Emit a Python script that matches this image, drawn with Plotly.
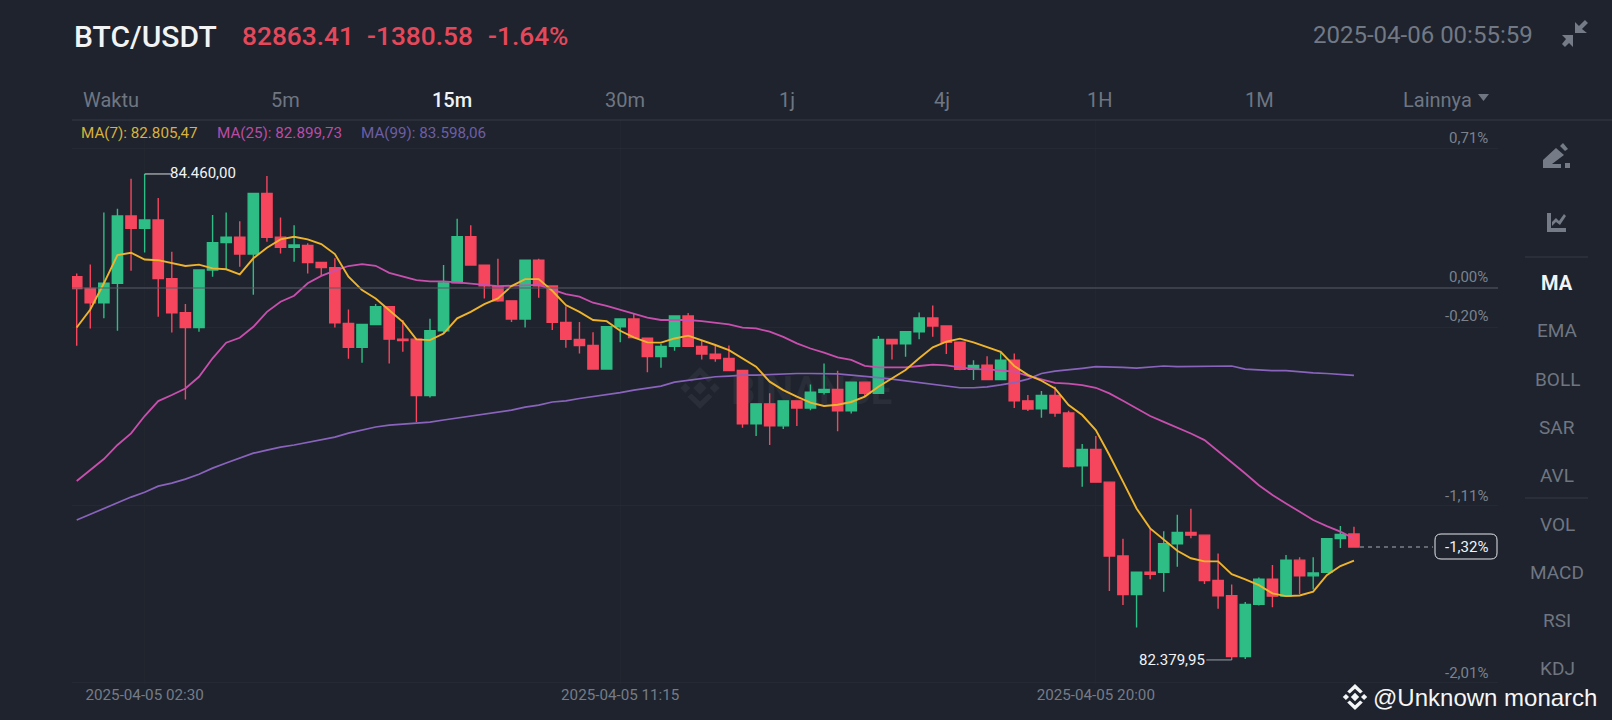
import pandas as pd
import plotly.graph_objects as go

W, H = 1612, 720
BG = "#1e232d"
GRAY = "#757c88"
FONT = "Roboto"

opens = [84020,83970,83909,83992,84280,84227,84263,84012,83866,83803,84049,84166,84189,84117,84377,84189,84146,84154,84081,84059,
         83820,83718,83816,83892,83753,83753,83512,83789,83994,84191,84070,83977,83917,83839,84091,83981,83825,83752,83726,83625,
         83806,83839,83757,83679,83722,83852,83722,83689,83670,83619,83391,83476,83382,83489,83458,83526,83538,83446,83569,83521,
         83752,83733,83785,83844,83809,83740,83624,83642,83580,83663,83489,83455,83512,83437,83211,83281,83141,82825,82660,82755,
         82755,82877,82926,82914,82720,82655,82394,82618,82726,82653,82807,82740,82755,82900,82919]
closes = [83970,83909,83992,84280,84227,84263,84012,83866,83803,84049,84166,84189,84117,84377,84189,84146,84156,84081,84059,83823,
          83718,83816,83892,83753,83747,83512,83789,83994,84191,84070,83981,83917,83839,84091,83981,83825,83752,83726,83625,83806,
          83839,83760,83679,83722,83852,83722,83689,83670,83619,83391,83476,83382,83489,83458,83526,83538,83446,83569,83521,83752,
          83733,83785,83844,83809,83740,83624,83640,83580,83663,83489,83454,83512,83437,83208,83281,83141,82825,82660,82755,82746,
          82877,82926,82914,82720,82655,82394,82618,82726,82653,82807,82740,82752,82899,82917,82863.41]
highs = [84034,84073,84295,84311,84440,84460,84357,84127,83903,84049,84284,84295,84258,84377,84451,84274,84240,84163,84081,84099,
         83880,83816,83903,83892,83835,83753,83840,84070,84268,84240,84070,84097,83917,84091,84097,83981,83894,83826,83783,83806,
         83839,83863,83757,83732,83852,83865,83749,83726,83726,83619,83476,83521,83489,83489,83559,83649,83618,83569,83569,83766,
         83752,83785,83867,83897,83809,83740,83663,83680,83695,83692,83514,83531,83549,83447,83304,83338,83141,82899,82755,82941,
         82931,83001,83027,82914,82836,82703,82628,82733,82786,82829,82819,82819,82899,82953,82950]
lows = [83725,83799,83842,83789,84046,84124,83849,83781,83495,83785,84020,84049,84063,83943,84170,84120,84084,84034,84023,83803,
        83669,83652,83816,83649,83699,83398,83503,83777,83994,84070,83927,83913,83826,83803,83930,83792,83716,83692,83624,83625,
        83740,83760,83611,83631,83703,83722,83666,83656,83618,83374,83338,83300,83368,83381,83449,83516,83359,83435,83509,83521,
        83666,83678,83753,83763,83689,83620,83578,83580,83580,83458,83445,83417,83421,83204,83121,83141,82675,82615,82519,82725,
        82672,82779,82901,82705,82599,82380,82384,82613,82605,82653,82662,82682,82755,82859,82863.41]
ma7 = [83803,83880,83992,84113,84123,84094,84091,84077,84066,84072,84056,84052,84030,84099,84144,84180,84191,84180,84160,84117,
       84020,83963,83927,83877,83827,83752,83749,83777,83842,83870,83903,83927,83980,84010,84010,83960,83899,83870,83835,83830,
       83789,83761,83739,83738,83756,83768,83749,83728,83706,83671,83635,83571,83535,83507,83481,83467,83472,83484,83507,83549,
       83585,83621,83671,83718,83742,83755,83739,83718,83699,83638,83600,83575,83542,83471,83428,83364,83257,83143,83028,82943,
       82893,82847,82815,82802,82802,82747,82725,82700,82665,82653,82656,82672,82743,82782,82805.47]
ma25 = [83146,83193,83240,83300,83350,83424,83488,83514,83542,83592,83671,83738,83759,83806,83870,83913,83939,83992,84024,84046,
        84066,84074,84067,84037,84023,84006,84000,84000,83996,83992,83985,83980,83981,83985,83985,83965,83946,83935,83909,83895,
        83878,83859,83845,83835,83835,83835,83830,83822,83816,83802,83799,83785,83763,83735,83713,83695,83675,83664,83639,83632,
        83631,83632,83638,83644,83641,83632,83625,83624,83619,83614,83596,83581,83566,83563,83556,83545,83521,83489,83456,83424,
        83399,83375,83349,83321,83274,83224,83178,83128,83086,83050,83014,82979,82953,82929,82899.73]
ma99 = [82979,83004,83026,83051,83077,83098,83124,83137,83154,83175,83201,83223,83244,83265,83278,83291,83300,83312,83325,83334,
        83351,83364,83377,83385,83389,83394,83398,83407,83415,83424,83432,83441,83449,83462,83471,83484,83489,83499,83507,83514,
        83524,83535,83544,83552,83569,83577,83585,83592,83595,83599,83599,83602,83604,83606,83606,83606,83604,83599,83595,83588,
        83582,83575,83567,83559,83552,83545,83545,83549,83557,83567,83582,83606,83616,83621,83628,83635,83635,83632,83629,83632,
        83638,83635,83635,83636,83638,83638,83625,83621,83618,83618,83612,83609,83606,83603,83598.06]

base_price = 83972
pct_ticks = [0.71, -0.20, -1.11, -2.01]
pct_labels = ["0,71%", "-0,20%", "-1,11%", "-2,01%"]
date_ticks = ["2025-04-05 02:30", "2025-04-05 11:15", "2025-04-05 20:00"]
intervals = ["Waktu", "5m", "15m", "30m", "1j", "4j", "1H", "1M"]
indicators = ["MA", "EMA", "BOLL", "SAR", "AVL", "VOL", "MACD", "RSI", "KDJ"]

times = pd.date_range("2025-04-05 01:15", periods=len(closes), freq="15min")
fx = lambda x: x / W
fy = lambda y: 1 - y / H

fig = go.Figure()
fig.add_trace(go.Candlestick(
    x=times, open=opens, high=highs, low=lows, close=closes,
    increasing=dict(line=dict(color="#2ebd85", width=1.4), fillcolor="#2ebd85"),
    decreasing=dict(line=dict(color="#f6465d", width=1.4), fillcolor="#f6465d"),
    whiskerwidth=0, showlegend=False))
for vals, col, lw in [(ma99, "#8a63bd", 1.7), (ma25, "#c94fae", 1.8), (ma7, "#f0b42c", 1.9)]:
    fig.add_trace(go.Scatter(x=times, y=vals, mode="lines", line=dict(color=col, width=lw), showlegend=False))
# leader lines of the high / low labels
fig.add_trace(go.Scatter(x=[times[5], times[5] + pd.Timedelta(minutes=29)], y=[84460, 84460], mode="lines",
                         line=dict(color="#d8dbe0", width=1), showlegend=False))
fig.add_trace(go.Scatter(x=[times[85] - pd.Timedelta(minutes=28), times[85]], y=[82380, 82380], mode="lines",
                         line=dict(color="#9aa0a8", width=1), showlegend=False))

ann, shapes = [], []
def T(x, y, s, size, color=GRAY, anchor="center", weight=400):
    ann.append(dict(x=fx(x), y=fy(y), xref="paper", yref="paper", text=s, showarrow=False, xanchor=anchor, yanchor="middle",
                    borderpad=0, font=dict(family=FONT, size=size, color=color, weight=weight)))
def P(d, color):
    shapes.append(dict(type="path", xref="paper", yref="paper", path=d, fillcolor=color, line=dict(width=0)))
def poly(pts):
    return "M " + " L ".join(f"{fx(a):.5f},{fy(b):.5f}" for a, b in pts) + " Z"
def hline(x0, x1, y, color, w=1):
    shapes.append(dict(type="line", xref="paper", yref="paper", x0=fx(x0), x1=fx(x1), y0=fy(y), y1=fy(y), line=dict(color=color, width=w)))
def logo(cx, cy, r, color):
    s = r / 10
    for dx, dy, q in [(0, 0, 3.2), (-7, 0, 2.4), (7, 0, 2.4)]:
        P(poly([(cx + dx * s - q * s, cy + dy * s), (cx + dx * s, cy + dy * s - q * s), (cx + dx * s + q * s, cy + dy * s), (cx + dx * s, cy + dy * s + q * s)]), color)
    for sg in (-1, 1):
        P(poly([(cx - 6 * s, cy + sg * 4.2 * s), (cx, cy + sg * 10 * s), (cx + 6 * s, cy + sg * 4.2 * s), (cx + 4 * s, cy + sg * 2.6 * s), (cx, cy + sg * 6.4 * s), (cx - 4 * s, cy + sg * 2.6 * s)]), color)

# header
T(73, 36, "BTC/USDT", 30, "#f2f3f5", "left", 500)
T(241, 36, "82863.41", 26.3, "#e4495b", "left", 500)
T(366, 36, "-1380.58", 26.3, "#e4495b", "left", 500)
T(487, 36, "-1.64%", 26.3, "#e4495b", "left", 500)
T(1534, 35, "2025-04-06 00:55:59", 24, "#727985", "right")
# collapse icon
P(poly([(1575, 33), (1575, 22), (1579, 26), (1585, 20), (1588, 23), (1582, 29), (1587, 33)]), GRAY)
P(poly([(1573, 35), (1573, 47), (1569, 43), (1565, 47), (1562, 44), (1566, 39), (1562, 35)]), GRAY)

# interval bar
for s, x in zip(intervals, [111, 285, 452, 625, 787, 942, 1100, 1259]):
    T(x, 100, s, 20, "#f2f3f5" if s == "15m" else "#6f7682", weight=500 if s == "15m" else 400)
T(1473, 100, "Lainnya", 20, "#6f7682", "right")
P(poly([(1478, 94), (1489, 94), (1483.5, 101)]), "#6f7682")
hline(72, W, 120, "#343a45")

# MA legend
T(80, 133, "MA(7): 82.805,47", 15.2, "#d9b13c", "left")
T(216, 133, "MA(25): 82.899,73", 15.2, "#bd4ba6", "left")
T(360, 133, "MA(99): 83.598,06", 15.2, "#6e5ea6", "left")

# percent labels
for s, y in zip(pct_labels, [138, 316, 496, 673]):
    T(1489, y, s, 15, "#7b828d", "right")
T(1489, 277, "0,00%", 15, "#7b828d", "right")

# side panel
ys = [283, 331, 379, 427, 475, 524, 572, 620, 668]
for s, y in zip(indicators, ys):
    T(1557, y, s, 20 if s == "MA" else 19, "#f2f3f5" if s == "MA" else "#6f7682", weight=700 if s == "MA" else 400)
hline(1525, 1588, 257, "#343a45")
hline(1525, 1588, 498, "#343a45")
# pencil icon
P(poly([(1543, 168), (1543, 160), (1556, 148), (1564, 155), (1552, 164), (1561, 164), (1561, 168)]), GRAY)
P(poly([(1565, 163), (1570, 163), (1570, 168), (1565, 168)]), GRAY)
P(poly([(1560, 146), (1563, 143), (1568, 149), (1565, 151)]), GRAY)
# chart icon
P(poly([(1547, 213), (1551, 213), (1551, 228), (1566, 228), (1566, 232), (1547, 232)]), GRAY)
P(poly([(1552, 226), (1552, 222), (1556, 218), (1559, 221), (1564, 214), (1566, 216), (1560, 225), (1556, 222)]), GRAY)

# high / low / current labels
T(169, 173, "84.460,00", 15, "#f2f3f5", "left")
T(1206, 660, "82.379,95", 15, "#f2f3f5", "right")
shapes.append(dict(type="line", xref="paper", yref="y", x0=fx(1360), x1=fx(1433), y0=82863.41, y1=82863.41,
                   line=dict(color="#a8adb5", width=1.2, dash="4px,4px")))
x0, x1, y0, y1, r = 1435, 1497, 534, 559, 6
box = (f"M {fx(x0+r)},{fy(y0)} L {fx(x1-r)},{fy(y0)} Q {fx(x1)},{fy(y0)} {fx(x1)},{fy(y0+r)} L {fx(x1)},{fy(y1-r)} "
       f"Q {fx(x1)},{fy(y1)} {fx(x1-r)},{fy(y1)} L {fx(x0+r)},{fy(y1)} Q {fx(x0)},{fy(y1)} {fx(x0)},{fy(y1-r)} "
       f"L {fx(x0)},{fy(y0+r)} Q {fx(x0)},{fy(y0)} {fx(x0+r)},{fy(y0)} Z")
shapes.append(dict(type="path", xref="paper", yref="paper", path=box, fillcolor=BG, line=dict(color="#e6e8eb", width=1)))
T(1466, 547, "-1,32%", 15, "#f2f3f5")

# zero line
shapes.append(dict(type="line", xref="paper", yref="y", x0=fx(72), x1=fx(1498), y0=base_price, y1=base_price,
                   line=dict(color="#565c67", width=1.2)))

# faint centre watermark, below the marks
n = len(shapes)
logo(700, 388, 21, "#292e39")
for s in shapes[n:]:
    s["layer"] = "below"
shapes.append(dict(type="rect", xref="paper", yref="paper", x0=fx(728), x1=fx(895), y0=fy(408), y1=fy(368), layer="below",
                   line=dict(width=0), fillcolor="rgba(0,0,0,0)",
                   label=dict(text="BINANCE", font=dict(family=FONT, size=38, color="#292e39", weight=700),
                              textposition="middle center")))

# bottom-right credit
logo(1355, 697, 13, "#f5f6f7")
ann.append(dict(x=fx(1372), y=fy(697), xref="paper", yref="paper", text="@Unknown monarch", showarrow=False, xanchor="left", yanchor="middle",
                borderpad=0, font=dict(family="Liberation Sans", size=24, color="#f5f6f7")))

fig.update_layout(
    width=W, height=H, margin=dict(l=0, r=0, t=0, b=0), paper_bgcolor=BG, plot_bgcolor=BG,
    showlegend=False, boxgap=0.24, boxgroupgap=0, annotations=ann, shapes=shapes,
    font=dict(family=FONT),
    xaxis=dict(domain=[72 / W, 1498 / W], type="date", range=["2025-04-05 01:09:49", "2025-04-06 03:24:00"],
               rangeslider=dict(visible=False), showgrid=True, gridcolor="#21262f", gridwidth=1, zeroline=False,
               tickmode="array", tickvals=date_ticks, ticktext=date_ticks, ticks="", showline=False,
               tickfont=dict(size=15.2, color="#757c88", family=FONT)),
    yaxis=dict(domain=[1 - 684 / H, 1 - 120 / H], range=[82277, 84691], showticklabels=False, ticks="", zeroline=False,
               showgrid=True, gridcolor="#242933", gridwidth=1, tickmode="array",
               tickvals=[base_price * (1 + p / 100) for p in pct_ticks]),
)
fig.write_html("out.html", config=dict(displayModeBar=False),
               post_script="document.body.style.margin='0';document.documentElement.style.overflow='hidden';")
